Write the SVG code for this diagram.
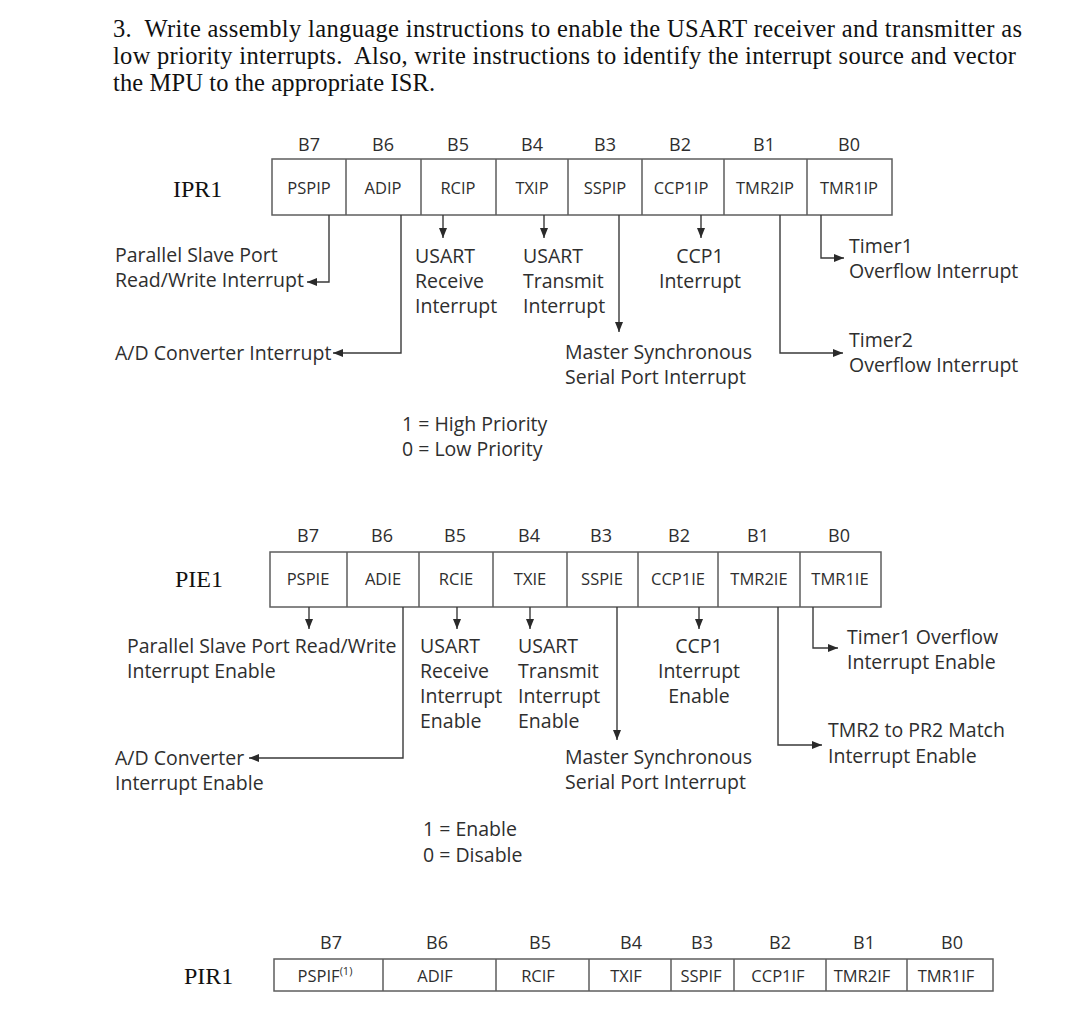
<svg xmlns="http://www.w3.org/2000/svg" width="1092" height="1029" viewBox="0 0 1092 1029">
<defs>
<marker id="ah" markerUnits="userSpaceOnUse" markerWidth="10" markerHeight="8" refX="10" refY="4" orient="auto">
<path d="M0,0 L10,4 L0,8 z" fill="#2a2a2a"/>
</marker>
<style>
.title{font-family:"Liberation Serif","Times New Roman",serif;font-size:24.5px;fill:#111}
.reg{font-family:"Liberation Serif","Times New Roman",serif;font-size:24px;fill:#111}
.hdr{font-family:"Open Sans","Noto Sans",sans-serif;font-size:18px;fill:#2e2e2e;text-anchor:middle}
.cell{font-family:"Open Sans","Noto Sans",sans-serif;font-size:16.5px;fill:#2e2e2e;text-anchor:middle}
.lbl{font-family:"Open Sans","Noto Sans",sans-serif;font-size:19.5px;fill:#2e2e2e}
.mid{text-anchor:middle}
.box{fill:#fff;stroke:#5e5e5e;stroke-width:1.5}
.div{stroke:#5e5e5e;stroke-width:1.5}
.con{fill:none;stroke:#3a3a3a;stroke-width:1.4;marker-end:url(#ah)}
</style>
</defs>
<rect width="1092" height="1029" fill="#fff"/>

<g id="title">
<text class="title" x="113" y="37" xml:space="preserve" textLength="909" lengthAdjust="spacing">3.  Write assembly language instructions to enable the USART receiver and transmitter as</text>
<text class="title" x="113" y="64" xml:space="preserve" textLength="903" lengthAdjust="spacing">low priority interrupts.  Also, write instructions to identify the interrupt source and vector</text>
<text class="title" x="113" y="91" textLength="322" lengthAdjust="spacing">the MPU to the appropriate ISR.</text>
</g>

<!-- IPR1 -->
<g id="IPR1">
<text class="reg" x="173" y="197">IPR1</text>
<rect class="box" x="272" y="159" width="620" height="56"/>
<path class="div" d="M346,159V215M421,159V215M496,159V215M568,159V215M642,159V215M724,159V215M807,159V215"/>
<text class="hdr" x="309" y="151">B7</text>
<text class="hdr" x="383" y="151">B6</text>
<text class="hdr" x="458" y="151">B5</text>
<text class="hdr" x="532" y="151">B4</text>
<text class="hdr" x="605" y="151">B3</text>
<text class="hdr" x="680" y="151">B2</text>
<text class="hdr" x="764" y="151">B1</text>
<text class="hdr" x="849" y="151">B0</text>
<text class="cell" x="309" y="194">PSPIP</text>
<text class="cell" x="383" y="194">ADIP</text>
<text class="cell" x="458" y="194">RCIP</text>
<text class="cell" x="532" y="194">TXIP</text>
<text class="cell" x="605" y="194">SSPIP</text>
<text class="cell" x="681" y="194">CCP1IP</text>
<text class="cell" x="765" y="194">TMR2IP</text>
<text class="cell" x="849" y="194">TMR1IP</text>
</g>

<g id="ipr1-psp"><text class="lbl" x="115" y="262">Parallel Slave Port</text><text class="lbl" x="115" y="287">Read/Write Interrupt</text></g>
<g id="ipr1-ad"><text class="lbl" x="115" y="360">A/D Converter Interrupt</text></g>
<g id="ipr1-rc"><text class="lbl" x="415" y="263">USART</text><text class="lbl" x="415" y="288">Receive</text><text class="lbl" x="415" y="313">Interrupt</text></g>
<g id="ipr1-tx"><text class="lbl" x="523" y="263">USART</text><text class="lbl" x="523" y="288">Transmit</text><text class="lbl" x="523" y="313">Interrupt</text></g>
<g id="ipr1-ccp"><text class="lbl mid" x="700" y="263">CCP1</text><text class="lbl mid" x="700" y="288">Interrupt</text></g>
<g id="ipr1-ssp"><text class="lbl" x="565" y="359">Master Synchronous</text><text class="lbl" x="565" y="384">Serial Port Interrupt</text></g>
<g id="ipr1-t1"><text class="lbl" x="849" y="253">Timer1</text><text class="lbl" x="849" y="278">Overflow Interrupt</text></g>
<g id="ipr1-t2"><text class="lbl" x="849" y="347">Timer2</text><text class="lbl" x="849" y="372">Overflow Interrupt</text></g>
<g id="ipr1-legend"><text class="lbl" x="402" y="431">1 = High Priority</text><text class="lbl" x="402" y="456">0 = Low Priority</text></g>

<!-- PIE1 -->
<g id="PIE1">
<text class="reg" x="175" y="587">PIE1</text>
<rect class="box" x="270" y="552" width="611" height="55"/>
<path class="div" d="M347,552V607M419,552V607M493,552V607M567,552V607M638,552V607M718,552V607M800,552V607"/>
<text class="hdr" x="308" y="542">B7</text>
<text class="hdr" x="382" y="542">B6</text>
<text class="hdr" x="455" y="542">B5</text>
<text class="hdr" x="529" y="542">B4</text>
<text class="hdr" x="601" y="542">B3</text>
<text class="hdr" x="679" y="542">B2</text>
<text class="hdr" x="758" y="542">B1</text>
<text class="hdr" x="839" y="542">B0</text>
<text class="cell" x="308" y="585">PSPIE</text>
<text class="cell" x="383" y="585">ADIE</text>
<text class="cell" x="456" y="585">RCIE</text>
<text class="cell" x="530" y="585">TXIE</text>
<text class="cell" x="602" y="585">SSPIE</text>
<text class="cell" x="678" y="585">CCP1IE</text>
<text class="cell" x="759" y="585">TMR2IE</text>
<text class="cell" x="840" y="585">TMR1IE</text>
</g>

<g id="pie1-psp"><text class="lbl" x="127" y="653">Parallel Slave Port Read/Write</text><text class="lbl" x="127" y="678">Interrupt Enable</text></g>
<g id="pie1-ad"><text class="lbl" x="115" y="765">A/D Converter</text><text class="lbl" x="115" y="790">Interrupt Enable</text></g>
<g id="pie1-rc"><text class="lbl" x="420" y="653">USART</text><text class="lbl" x="420" y="678">Receive</text><text class="lbl" x="420" y="703">Interrupt</text><text class="lbl" x="420" y="728">Enable</text></g>
<g id="pie1-tx"><text class="lbl" x="518" y="653">USART</text><text class="lbl" x="518" y="678">Transmit</text><text class="lbl" x="518" y="703">Interrupt</text><text class="lbl" x="518" y="728">Enable</text></g>
<g id="pie1-ccp"><text class="lbl mid" x="699" y="653">CCP1</text><text class="lbl mid" x="699" y="678">Interrupt</text><text class="lbl mid" x="699" y="703">Enable</text></g>
<g id="pie1-ssp"><text class="lbl" x="565" y="764">Master Synchronous</text><text class="lbl" x="565" y="789">Serial Port Interrupt</text></g>
<g id="pie1-t1"><text class="lbl" x="847" y="644">Timer1 Overflow</text><text class="lbl" x="847" y="669">Interrupt Enable</text></g>
<g id="pie1-t2"><text class="lbl" x="828" y="737">TMR2 to PR2 Match</text><text class="lbl" x="828" y="763">Interrupt Enable</text></g>
<g id="pie1-legend"><text class="lbl" x="423" y="836">1 = Enable</text><text class="lbl" x="423" y="862">0 = Disable</text></g>

<!-- PIR1 -->
<g id="PIR1">
<text class="reg" x="184" y="984">PIR1</text>
<rect class="box" x="274" y="959" width="719" height="32"/>
<path class="div" d="M383,959V991M496,959V991M589,959V991M671,959V991M734,959V991M826,959V991M907,959V991"/>
<text class="hdr" x="331" y="949">B7</text>
<text class="hdr" x="437" y="949">B6</text>
<text class="hdr" x="540" y="949">B5</text>
<text class="hdr" x="631" y="949">B4</text>
<text class="hdr" x="702" y="949">B3</text>
<text class="hdr" x="780" y="949">B2</text>
<text class="hdr" x="864" y="949">B1</text>
<text class="hdr" x="952" y="949">B0</text>
<text class="cell" x="325" y="982">PSPIF<tspan font-size="11" dy="-7">(1)</tspan></text>
<text class="cell" x="435" y="982">ADIF</text>
<text class="cell" x="538" y="982">RCIF</text>
<text class="cell" x="626" y="982">TXIF</text>
<text class="cell" x="701" y="982">SSPIF</text>
<text class="cell" x="778" y="982">CCP1IF</text>
<text class="cell" x="862" y="982">TMR2IF</text>
<text class="cell" x="946" y="982">TMR1IF</text>
</g>

<g id="connectors">
<!-- IPR1 -->
<path class="con" d="M329,215V282H307"/>
<path class="con" d="M401,215V353H333"/>
<path class="con" d="M443,215V238"/>
<path class="con" d="M544,215V238"/>
<path class="con" d="M619,215V332"/>
<path class="con" d="M701,215V238"/>
<path class="con" d="M780,215V353H843"/>
<path class="con" d="M821,215V258H844"/>
<!-- PIE1 -->
<path class="con" d="M309,607V629"/>
<path class="con" d="M403,607V758H249"/>
<path class="con" d="M457,607V629"/>
<path class="con" d="M530,607V629"/>
<path class="con" d="M617,607V740"/>
<path class="con" d="M699,607V629"/>
<path class="con" d="M778,607V745H822"/>
<path class="con" d="M813,607V648H838"/>
</g>
</svg>
